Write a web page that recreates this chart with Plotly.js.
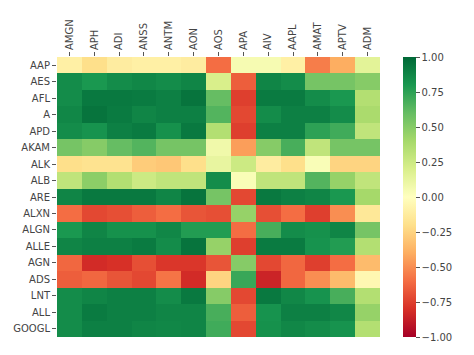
<!DOCTYPE html>
<html>
<head>
<meta charset="utf-8">
<script src="https://cdn.plot.ly/plotly-3.0.1.min.js"></script>
<style>html,body{margin:0;padding:0;background:#fff;}#chart{width:474px;height:355px;}</style>
</head>
<body>
<div id="chart"></div>
<script>
const columns = ["AMGN","APH","ADI","ANSS","ANTM","AON","AOS","APA","AIV","AAPL","AMAT","APTV","ADM"];
const rows = ["AAP","AES","AFL","A","APD","AKAM","ALK","ALB","ARE","ALXN","ALGN","ALLE","AGN","ADS","LNT","ALL","GOOGL"];

const rAAP   = [-0.10,-0.20,-0.12,-0.10,-0.10,-0.12,-0.60, 0.05, 0.05,-0.10,-0.55,-0.40, 0.15];
const rAES   = [ 0.85, 0.80, 0.85, 0.87, 0.85, 0.88, 0.20,-0.65, 0.88, 0.85, 0.55, 0.55, 0.50];
const rAFL   = [ 0.85, 0.93, 0.93, 0.92, 0.90, 0.95, 0.60,-0.75, 0.92, 0.92, 0.85, 0.80, 0.35];
const rA     = [ 0.87, 0.95, 0.92, 0.88, 0.90, 0.90, 0.65,-0.72, 0.85, 0.90, 0.90, 0.85, 0.38];
const rAPD   = [ 0.85, 0.82, 0.90, 0.92, 0.83, 0.93, 0.35,-0.75, 0.90, 0.90, 0.75, 0.70, 0.30];
const rAKAM  = [ 0.55, 0.50, 0.60, 0.65, 0.55, 0.55, 0.08,-0.45, 0.50, 0.68, 0.30, 0.55, 0.55];
const rALK   = [-0.20,-0.18,-0.18,-0.28,-0.30,-0.20, 0.12, 0.25,-0.12,-0.20, 0.03,-0.25,-0.25];
const rALB   = [ 0.30, 0.48, 0.35, 0.25, 0.30, 0.30, 0.85, 0.03, 0.30, 0.30, 0.65, 0.45, 0.30];
const rARE   = [ 0.88, 0.93, 0.93, 0.93, 0.88, 0.95, 0.55,-0.72, 0.93, 0.90, 0.88, 0.80, 0.40];
const rALXN  = [-0.60,-0.72,-0.70,-0.65,-0.60,-0.68,-0.70, 0.45,-0.70,-0.60,-0.75,-0.50,-0.15];
const rALGN  = [ 0.80, 0.88, 0.83, 0.83, 0.87, 0.78, 0.78,-0.60, 0.68, 0.85, 0.83, 0.88, 0.55];
const rALLE  = [ 0.88, 0.90, 0.90, 0.92, 0.85, 0.95, 0.45,-0.75, 0.92, 0.92, 0.82, 0.78, 0.35];
const rAGN   = [-0.62,-0.82,-0.80,-0.70,-0.78,-0.78,-0.68, 0.50,-0.72,-0.62,-0.75,-0.60,-0.35];
const rADS   = [-0.65,-0.62,-0.68,-0.72,-0.58,-0.82,-0.25, 0.72,-0.85,-0.62,-0.50,-0.35,-0.05];
const rLNT   = [ 0.85, 0.88, 0.90, 0.90, 0.85, 0.93, 0.50,-0.72, 0.93, 0.87, 0.82, 0.68, 0.35];
const rALL   = [ 0.85, 0.92, 0.90, 0.90, 0.88, 0.88, 0.68,-0.65, 0.82, 0.90, 0.90, 0.87, 0.45];
const rGOOGL = [ 0.85, 0.90, 0.90, 0.88, 0.87, 0.88, 0.70,-0.72, 0.83, 0.87, 0.85, 0.82, 0.35];

const z = [rAAP,rAES,rAFL,rA,rAPD,rAKAM,rALK,rALB,rARE,rALXN,rALGN,rALLE,rAGN,rADS,rLNT,rALL,rGOOGL];

const cbTicks = [-1,-0.75,-0.5,-0.25,0,0.25,0.5,0.75,1];

const rdylgn = ["#a50026","#d73027","#f46d43","#fdae61","#fee08b","#ffffbf","#d9ef8b","#a6d96a","#66bd63","#1a9850","#006837"];
const colorscale = rdylgn.map((c,i)=>[i/(rdylgn.length-1), c]);

const font = {family:"DejaVu Sans, sans-serif", size:10, color:"#444"};

Plotly.newPlot("chart", [{
  type:"heatmap",
  x: columns, y: rows, z: z,
  zmin:-1, zmax:1,
  colorscale: colorscale,
  hoverongaps:false,
  colorbar:{
    x:1.071, xanchor:"left", xpad:0,
    y:0.5, yanchor:"middle", len:1, lenmode:"fraction", ypad:0,
    thickness:13, outlinewidth:0,
    tickvals: cbTicks, tickformat:".2f",
    ticks:"outside", ticklen:4, tickcolor:"#555",
    tickfont:{family:"DejaVu Sans, sans-serif", size:10, color:"#444"}
  }
}], {
  width:474, height:355,
  margin:{l:57, r:94, t:57, b:18, pad:0},
  paper_bgcolor:"#fff", plot_bgcolor:"#fff",
  font: font,
  xaxis:{side:"top", tickangle:-90, ticks:"outside", ticklen:4, tickcolor:"#555",
         showgrid:false, zeroline:false, showline:false, tickfont:font},
  yaxis:{autorange:"reversed", ticks:"outside", ticklen:4, tickcolor:"#555",
         showgrid:false, zeroline:false, showline:false, tickfont:font}
}, {displayModeBar:false, staticPlot:true});
</script>
</body>
</html>
